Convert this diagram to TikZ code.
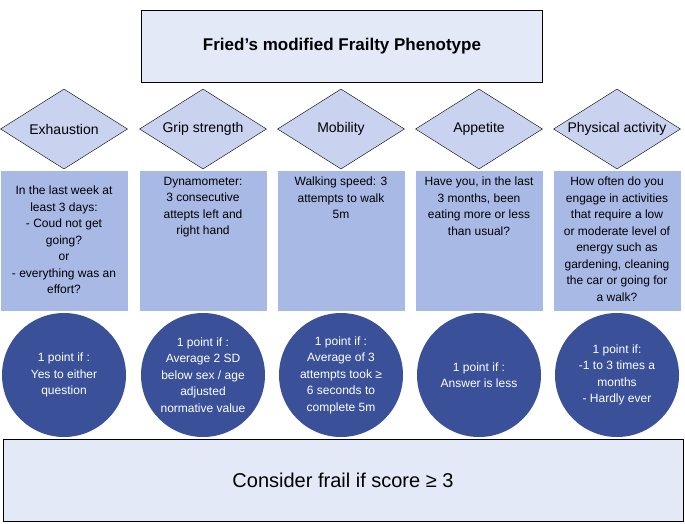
\documentclass[tikz,border=0pt]{standalone}
\usepackage{fontspec}
\setmainfont{Liberation Sans}
\usetikzlibrary{shapes.geometric}
\definecolor{dia}{HTML}{C9D3F0}
\definecolor{rct}{HTML}{A8B9E6}
\definecolor{circ}{HTML}{3A5199}
\definecolor{pale}{HTML}{E4E9F8}
\begin{document}
\begin{tikzpicture}[x=1pt,y=-1pt,
 dm/.style={diamond,draw=black,fill=dia,minimum width=127pt,minimum height=80pt,aspect=1.6,inner sep=0pt,font=\fontsize{14}{16}\selectfont},
 bx/.style={fill=rct,minimum width=127pt,minimum height=140pt,anchor=north},
 tx/.style={anchor=north,align=center,inner sep=0pt,font=\fontsize{12}{16.5}\selectfont},
 cr/.style={circle,fill=circ,minimum size=124pt,text=white,align=center,font=\fontsize{12}{16.5}\selectfont}]
\useasboundingbox (0,0) rectangle (685,523);
\node[draw=black,fill=pale,minimum width=401pt,minimum height=72pt,font=\bfseries\fontsize{17}{20}\selectfont] (title) at (342,46) {Fried’s modified Frailty Phenotype};
\foreach \i/\x/\t in {1/64/Exhaustion,2/203/Grip strength,3/341/Mobility,4/479/Appetite,5/617/Physical activity}
  {\node[dm] (d\i) at (\x,129) {\t};
   \node[bx] (b\i) at (\x,171) {};}
\node[tx] (t1) at (64,186) {In the last week at\\least 3 days:\\- Coud not get\\going?\\or\\- everything was an\\effort?};
\node[tx] (t2) at (203,177) {Dynamometer:\\3 consecutive\\attepts left and\\right hand};
\node[tx] (t3) at (341,177) {Walking speed: 3\\attempts to walk\\5m};
\node[tx] (t4) at (479,177) {Have you, in the last\\3 months, been\\eating more or less\\than usual?};
\node[tx] (t5) at (617,177) {How often do you\\engage in activities\\that require a low\\or moderate level of\\energy such as\\gardening, cleaning\\the car or going for\\a walk?};
\node[cr] (c1) at (64,375) {1 point if :\\Yes to either\\question};
\node[cr] (c2) at (203,375) {1 point if :\\Average 2 SD\\below sex / age\\adjusted\\normative value};
\node[cr] (c3) at (341,375) {1 point if :\\Average of 3\\attempts took ≥\\6 seconds to\\complete 5m};
\node[cr] (c4) at (479,375) {1 point if :\\Answer is less};
\node[cr] (c5) at (617,375) {1 point if:\\-1 to 3 times a\\months\\- Hardly ever};
\node[draw=black,fill=pale,minimum width=680pt,minimum height=82pt,font=\fontsize{20}{24}\selectfont] (bot) at (343,480) {Consider frail if score ≥ 3};
\end{tikzpicture}
\end{document}
